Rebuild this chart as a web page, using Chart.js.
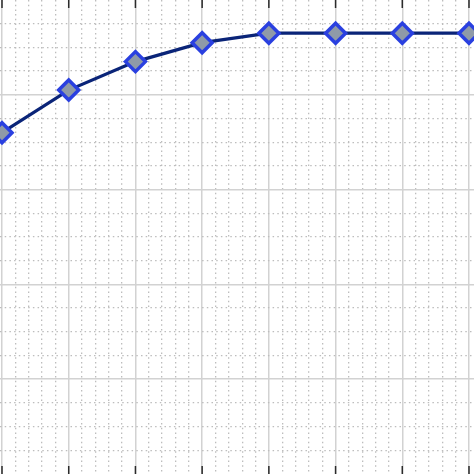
<!DOCTYPE html>
<html>
<head>
<meta charset="utf-8">
<script src="https://cdn.jsdelivr.net/npm/chart.js@4"></script>
<style>
  html, body { margin: 0; padding: 0; background: #fff; }
  #wrap { width: 474px; height: 474px; }
</style>
</head>
<body>
<div id="wrap"><canvas id="curve" width="474" height="474"></canvas></div>
<script>
// values
const steps = [1, 2, 3, 4, 5, 6, 7, 8];
const scores = [72, 81, 87, 91, 93, 93, 93, 93];
const xMajor = [1, 2, 3, 4, 5, 6, 7, 8];
const yMajor = [20, 40, 60, 80];

// minor grid positions (5 per x step, 4 per y step)
const xMinor = [];
for (let i = 1; i < 8; i++) {
  [0.2, 0.4, 0.6, 0.8].forEach((f) => xMinor.push(i + f));
}
const yMinor = [];
for (let v = 5; v < 100; v += 5) {
  if (v % 20 !== 0) yMinor.push(v);
}

const setTicks = (vals) => (scale) => {
  scale.ticks = vals.map((v) => ({ value: v }));
};

// short dark tick marks on top and bottom edges
const edgeTicks = {
  id: "edgeTicks",
  afterDatasetsDraw(chart) {
    const ctx = chart.ctx;
    const x = chart.scales.x;
    const area = chart.chartArea;
    ctx.save();
    ctx.strokeStyle = "#2b2b2b";
    ctx.lineWidth = 1.5;
    xMajor.forEach((v) => {
      const px = x.getPixelForValue(v);
      ctx.beginPath();
      ctx.moveTo(px, area.top);
      ctx.lineTo(px, area.top + 8);
      ctx.moveTo(px, area.bottom);
      ctx.lineTo(px, area.bottom - 8);
      ctx.stroke();
    });
    ctx.restore();
  },
};

const minorGrid = { color: "#bdbdbd", lineWidth: 1.3, drawTicks: false, tickLength: 0 };
const majorGrid = { color: "#d2d2d2", lineWidth: 1.5, drawTicks: false, tickLength: 0 };
const dotted = { display: false, dash: [1.5, 3.2] };
const solid = { display: false };

const ctx = document.getElementById("curve").getContext("2d");
const chart = new Chart(ctx, {
  type: "line",
  data: {
    datasets: [
      {
        data: steps.map((s, i) => ({ x: s, y: scores[i] })),
        borderColor: "#0a2478",
        borderWidth: 3.2,
        tension: 0,
        fill: false,
        pointStyle: "rectRot",
        pointRadius: 10,
        pointHoverRadius: 10,
        pointBackgroundColor: "#8f9aa8",
        pointBorderColor: "#2a40e0",
        pointBorderWidth: 3.5,
        clip: false,
      },
    ],
  },
  options: {
    responsive: false,
    animation: false,
    devicePixelRatio: 1,
    layout: { padding: 0, autoPadding: false },
    plugins: { legend: { display: false }, tooltip: { enabled: false } },
    scales: {
      xMin: {
        type: "linear",
        position: "bottom",
        min: 0.97,
        max: 8.075,
        afterBuildTicks: setTicks(xMinor),
        ticks: { display: false },
        border: dotted,
        grid: minorGrid,
      },
      x: {
        type: "linear",
        position: "bottom",
        min: 0.97,
        max: 8.075,
        afterBuildTicks: setTicks(xMajor),
        ticks: { display: false },
        border: solid,
        grid: majorGrid,
      },
      yMin: {
        type: "linear",
        position: "left",
        min: 0,
        max: 100,
        afterBuildTicks: setTicks(yMinor),
        ticks: { display: false },
        border: dotted,
        grid: minorGrid,
      },
      y: {
        type: "linear",
        position: "left",
        min: 0,
        max: 100,
        afterBuildTicks: setTicks(yMajor),
        ticks: { display: false },
        border: solid,
        grid: majorGrid,
      },
    },
  },
  plugins: [edgeTicks],
});
</script>
</body>
</html>
